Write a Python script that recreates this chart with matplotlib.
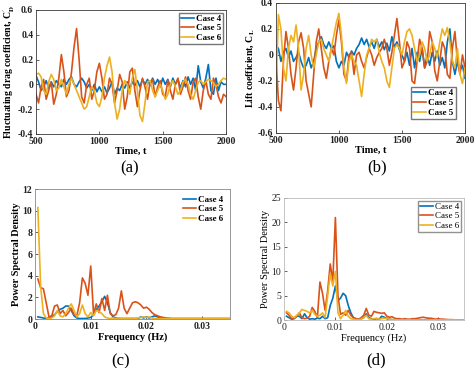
import numpy as np
import matplotlib
matplotlib.use("Agg")
import matplotlib.pyplot as plt
from matplotlib.ticker import FuncFormatter

# ---------------- data ----------------
time = list(range(500, 2001, 20))  # 76 points

cd_case4 = [0.07, 0.02, -0.05, -0.02, 0.03, -0.03, 0.02, -0.02, 0.03, 0.0,
            -0.02, 0.04, 0.0, 0.04, 0.06, 0.0, -0.02, 0.02, 0.05, 0.02,
            -0.03, 0.0, -0.05, 0.0, -0.06, -0.02, -0.06, -0.02, -0.07, -0.03,
            0.02, -0.08, -0.03, -0.05, 0.0, -0.03, 0.02, -0.03, 0.02, -0.01,
            0.03, -0.02, 0.04, 0.0, 0.04, -0.01, 0.05, 0.0, 0.04, -0.02,
            0.05, 0.0, 0.04, -0.02, 0.05, 0.0, 0.04, -0.03, 0.03, -0.02,
            0.06, 0.0, 0.05, -0.05, 0.15, 0.02, -0.03, 0.05, 0.16, -0.05,
            -0.08, 0.05, -0.05, 0.02, 0.0, 0.0]
cd_case5 = [-0.08, -0.15, -0.02, 0.04, -0.12, -0.05, 0.02, -0.16, -0.08, 0.05,
            0.24, 0.1, -0.1, -0.05, 0.1, 0.3, 0.45, 0.2, -0.1, -0.15,
            0.0, 0.05, -0.12, -0.05, 0.1, 0.17, 0.05, -0.12, -0.08, 0.05,
            0.0, -0.15, -0.05, 0.08, 0.02, -0.2, -0.1, 0.1, 0.13, -0.05,
            -0.18, -0.05, 0.05, -0.02, -0.12, 0.02, 0.04, -0.1, -0.02, 0.03,
            -0.08, -0.1, 0.03, -0.05, -0.12, 0.0, 0.05, -0.08, -0.02, 0.06,
            -0.05, -0.12, 0.02, 0.05, -0.1, -0.2, -0.05, 0.03, -0.08, -0.12,
            0.05, 0.0, -0.1, -0.15, -0.08, -0.1]
cd_case6 = [0.08, 0.09, 0.06, -0.05, -0.08, 0.02, 0.08, 0.04, -0.05, -0.03,
            0.04, -0.02, -0.08, 0.0, 0.05, 0.0, -0.05, -0.1, -0.15, -0.2,
            -0.18, -0.1, -0.02, -0.05, -0.15, -0.18, -0.1, 0.05, 0.15, 0.22,
            0.1, -0.15, -0.28, -0.2, -0.05, 0.03, 0.0, -0.08, 0.05, 0.12,
            -0.05, -0.25, -0.3, -0.15, 0.02, 0.03, -0.05, -0.1, -0.05, 0.0,
            -0.05, -0.12, -0.08, 0.0, 0.03, -0.02, -0.08, -0.05, 0.02, 0.04,
            0.0, -0.08, -0.12, -0.05, 0.02, 0.03, 0.0, 0.02, 0.04, 0.03,
            0.01, -0.02, 0.0, 0.03, 0.05, 0.04]

cl_case4 = [0.07, 0.05, -0.05, 0.02, 0.05, -0.02, 0.03, -0.05, -0.02, 0.02,
            -0.05, -0.1, -0.08, -0.02, -0.1, -0.05, 0.05, 0.1, 0.14, 0.08,
            0.05, 0.1, 0.05, 0.07, -0.05, -0.1, -0.05, -0.08, 0.02, -0.02,
            0.03, 0.0, 0.05, 0.08, 0.13, 0.08, 0.12, 0.06, 0.1, 0.05,
            0.12, 0.06, 0.1, 0.04, 0.09, 0.03, 0.14, 0.06, 0.1, 0.04,
            0.0, -0.05, 0.02, -0.08, 0.05, -0.1, 0.02, -0.05, 0.05, -0.1,
            0.0, -0.08, 0.02, -0.05, 0.03, -0.08, -0.02, -0.1, 0.1, 0.2,
            -0.05, -0.15, -0.05, -0.12, -0.08, -0.18]
cl_case5 = [0.0, -0.35, -0.43, -0.05, 0.18, 0.05, -0.15, -0.27, -0.1, 0.1,
            0.17, 0.05, -0.2, -0.3, -0.4, -0.15, 0.1, 0.2, 0.05, -0.1,
            -0.18, -0.05, 0.05, 0.0, 0.15, 0.27, 0.1, -0.15, -0.2, 0.0,
            0.02, -0.15, 0.0, 0.02, -0.05, -0.1, -0.02, 0.05, 0.0, -0.08,
            -0.02, 0.02, 0.05, 0.12, 0.05, -0.08, 0.02, 0.15, 0.28, 0.1,
            -0.1, -0.05, 0.1, 0.05, -0.2, -0.22, -0.05, 0.12, 0.05, -0.1,
            -0.05, 0.18, 0.1, -0.12, -0.2, -0.05, 0.1, 0.05, -0.15, -0.18,
            0.05, 0.18, -0.05, -0.15, 0.0, -0.1]
cl_case6 = [-0.3, 0.31, 0.2, -0.1, -0.2, 0.05, 0.15, 0.1, 0.23, 0.05,
            -0.27, -0.15, 0.05, 0.15, 0.0, -0.1, 0.0, 0.1, 0.12, 0.05,
            0.0, -0.05, 0.05, 0.15, 0.25, 0.32, 0.15, -0.1, -0.22, -0.05,
            0.0, -0.05, -0.08, -0.2, -0.32, -0.15, 0.0, 0.05, 0.12, 0.1,
            0.12, 0.02, -0.05, -0.1, -0.2, -0.25, -0.1, 0.05, 0.08, 0.05,
            0.0, 0.1, 0.18, 0.2, 0.15, 0.05, -0.05, 0.0, 0.1, 0.05,
            -0.05, 0.0, 0.1, 0.05, -0.02, 0.1, 0.2, 0.15, 0.21, 0.1,
            -0.05, -0.1, 0.05, -0.15, -0.22, -0.1]

freq = np.round(np.arange(1, 71) * 0.0005, 4)  # 0.0005 .. 0.035

psd_cd_case4 = [0.2, 0.15, 0.1, 0.05, 0.1, 0.2, 0.4, 0.7, 0.9, 1.0,
                1.2, 1.2, 0.8, 0.3, 0.1, 0.05, 0.05, 0.05, 0.1, 0.15,
                0.4, 0.9, 1.2, 1.6, 2.1, 1.5, 0.6, 0.2, 0.1, 0.05,
                0.05, 0.05, 0.05, 0.05, 0.05, 0.05, 0.05, 0.2, 0.1, 0.2,
                0.1, 0.2, 0.3, 0.2, 0.1, 0.05, 0.03, 0.03, 0.03, 0.03,
                0.03, 0.03, 0.03, 0.03, 0.03, 0.03, 0.03, 0.03, 0.03, 0.03,
                0.03, 0.03, 0.03, 0.03, 0.03, 0.03, 0.03, 0.03, 0.03, 0.03]
psd_cd_case5 = [3.7, 2.9, 2.8, 1.5, 0.2, 0.3, 1.2, 1.3, 0.5, 0.8,
                0.3, 0.6, 1.0, 0.4, 0.3, 1.5, 3.8, 3.3, 2.2, 4.9,
                0.5, 1.4, 0.6, 1.9, 0.8, 2.2, 0.5, 0.3, 0.4, 1.0,
                2.6, 1.0, 0.5, 1.0, 1.5, 1.6, 1.5, 1.3, 1.0, 1.1,
                0.9, 0.6, 0.4, 0.3, 0.2, 0.15, 0.1, 0.08, 0.05, 0.05,
                0.05, 0.05, 0.05, 0.05, 0.05, 0.05, 0.05, 0.05, 0.05, 0.05,
                0.05, 0.05, 0.05, 0.05, 0.05, 0.05, 0.05, 0.05, 0.05, 0.05]
psd_cd_case6 = [10.3, 3.0, 0.5, 0.1, 0.05, 0.1, 0.3, 0.8, 0.3, 0.2,
                0.5, 1.0, 1.4, 0.8, 0.2, 0.5, 1.3, 0.5, 0.2, 0.6,
                0.3, 0.8, 0.7, 0.5, 0.2, 0.1, 0.05, 0.1, 0.05, 0.1,
                0.05, 0.05, 0.05, 0.05, 0.05, 0.05, 0.1, 0.15, 0.2, 0.15,
                0.2, 0.1, 0.05, 0.05, 0.03, 0.03, 0.03, 0.03, 0.03, 0.03,
                0.03, 0.03, 0.03, 0.03, 0.03, 0.03, 0.03, 0.03, 0.03, 0.03,
                0.03, 0.03, 0.03, 0.03, 0.03, 0.03, 0.03, 0.03, 0.03, 0.03]

psd_cl_case4 = [0.8, 0.5, 0.2, 0.3, 0.8, 0.8, 0.3, 1.3, 0.5, 0.2,
                0.3, 0.2, 0.4, 0.3, 0.8, 0.3, 0.5, 3.0, 4.5, 7.0,
                4.0, 4.5, 5.5, 5.0, 3.0, 1.5, 0.5, 0.3, 0.2, 0.3,
                0.5, 1.3, 0.5, 0.3, 0.2, 0.3, 0.2, 0.8, 0.6, 0.3,
                0.2, 0.1, 0.05, 0.05, 0.05, 0.05, 0.05, 0.05, 0.05, 0.05,
                0.05, 0.05, 0.05, 0.05, 0.05, 0.05, 0.05, 0.05, 0.05, 0.05,
                0.05, 0.05, 0.05, 0.05, 0.05, 0.05, 0.05, 0.05, 0.05, 0.05]
psd_cl_case5 = [1.5, 1.0, 0.3, 0.5, 0.8, 1.5, 0.5, 0.3, 0.4, 0.8,
                2.6, 1.8, 0.5, 7.8, 5.5, 2.0, 6.0, 11.5, 8.0, 21.0,
                5.0, 1.2, 1.5, 1.0, 2.0, 1.0, 0.5, 0.3, 0.2, 0.5,
                1.0, 2.4, 1.0, 0.8, 1.8, 1.6, 1.5, 1.4, 1.5, 0.8,
                0.6, 0.7, 0.4, 0.3, 0.3, 0.2, 0.3, 0.2, 0.2, 0.3,
                0.3, 0.4, 0.5, 0.6, 0.5, 0.4, 0.4, 0.3, 0.2, 0.3,
                0.2, 0.2, 0.15, 0.1, 0.1, 0.08, 0.05, 0.05, 0.05, 0.05]
psd_cl_case6 = [1.8, 1.5, 0.8, 0.5, 1.0, 1.5, 2.2, 2.0, 1.8, 1.5,
                2.0, 1.2, 0.8, 1.0, 1.5, 0.5, 5.0, 9.5, 7.0, 10.0,
                1.5, 0.3, 1.0, 2.0, 0.8, 0.3, 0.2, 0.1, 0.1, 0.2,
                0.5, 1.0, 0.3, 0.2, 0.3, 0.4, 0.2, 0.3, 0.4, 0.3,
                0.2, 0.15, 0.1, 0.05, 0.05, 0.05, 0.05, 0.05, 0.05, 0.05,
                0.05, 0.05, 0.05, 0.05, 0.05, 0.05, 0.05, 0.05, 0.05, 0.05,
                0.05, 0.05, 0.05, 0.05, 0.05, 0.05, 0.05, 0.05, 0.05, 0.05]

labels_abc = ["Case 4", "Case 5", "Case 6"]
labels_b = ["Case 4", "Case 5", "Case 5"]
colors = ["#0072BD", "#D95319", "#EDB120"]

# ---------------- style ----------------
plt.rcParams["font.family"] = ["Liberation Serif", "DejaVu Serif"]
plt.rcParams["mathtext.fontset"] = "stix"

fig = plt.figure(figsize=(4.74, 3.68), dpi=100)
fmt = FuncFormatter(lambda v, p: "%g" % round(v, 6))


def style(ax, bold=True, edge="#3a3a3a"):
    w = "bold" if bold else "normal"
    ax.tick_params(direction="in", length=2.5, width=0.5, labelsize=7, pad=2, colors="#222222")
    for lab in ax.get_xticklabels() + ax.get_yticklabels():
        lab.set_fontweight(w)
    for s in ax.spines.values():
        s.set_color(edge)
        s.set_linewidth(0.6)
    ax.xaxis.set_major_formatter(fmt)
    ax.yaxis.set_major_formatter(fmt)


lw = 1.2

# (a)
axa = fig.add_axes([0.076, 0.636, 0.401, 0.337])
for y, c, l in zip([cd_case4, cd_case5, cd_case6], colors, labels_abc):
    axa.plot(time, y, color=c, lw=lw, label=l)
axa.set_xlim(500, 2000)
axa.set_ylim(-0.4, 0.6)
axa.set_xticks([500, 1000, 1500, 2000])
axa.set_yticks([-0.4, -0.2, 0, 0.2, 0.4, 0.6])
style(axa)
axa.set_xlabel("Time, t", fontsize=7.5, fontweight="bold", labelpad=1)
axa.set_ylabel(r"Fluctuating drag coefficient, C$_\mathbf{D}^{\prime}$", fontsize=7, fontweight="bold", labelpad=1)
axa.legend(loc="upper right", prop={"size": 6.5, "weight": "bold"}, handlelength=1.4,
           handletextpad=0.3, borderpad=0.2, labelspacing=0.15, frameon=True,
           fancybox=False, edgecolor="#555555", borderaxespad=0.3)

# (b)
axb = fig.add_axes([0.582, 0.639, 0.399, 0.353])
for y, c, l in zip([cl_case4, cl_case5, cl_case6], colors, labels_b):
    axb.plot(time, y, color=c, lw=lw, label=l)
axb.set_xlim(500, 2000)
axb.set_ylim(-0.6, 0.4)
axb.set_xticks([500, 1000, 1500, 2000])
axb.set_yticks([-0.6, -0.4, -0.2, 0, 0.2, 0.4])
style(axb)
axb.set_xlabel("Time, t", fontsize=7.5, fontweight="bold", labelpad=1)
axb.set_ylabel(r"Lift coefficient, C$_\mathbf{L}$", fontsize=7, fontweight="bold", labelpad=1)
axb.legend(loc="lower right", prop={"size": 6.5, "weight": "bold"}, handlelength=1.4,
           handletextpad=0.3, borderpad=0.2, labelspacing=0.15, frameon=True,
           fancybox=False, edgecolor="#555555", bbox_to_anchor=(0.95, 0.11),
           borderaxespad=0.0)

# (c)
axc = fig.add_axes([0.074, 0.133, 0.411, 0.353])
for y, c, l in zip([psd_cd_case4, psd_cd_case5, psd_cd_case6], colors, labels_abc):
    axc.plot(freq, y, color=c, lw=lw, label=l)
axc.set_xlim(0, 0.035)
axc.set_ylim(0, 12)
axc.set_xticks([0, 0.01, 0.02, 0.03])
axc.set_yticks([0, 2, 4, 6, 8, 10, 12])
style(axc, edge="#888888")
axc.set_xlabel("Frequency (Hz)", fontsize=7.5, fontweight="bold", labelpad=1)
axc.set_ylabel("Power Spectral Density", fontsize=7.5, fontweight="bold", labelpad=1)
axc.legend(loc="upper right", prop={"size": 6.5, "weight": "bold"}, handlelength=1.4,
           handletextpad=0.3, borderpad=0.2, labelspacing=0.15, frameon=False)

# (d)
axd = fig.add_axes([0.599, 0.130, 0.380, 0.332])
for y, c, l in zip([psd_cl_case4, psd_cl_case5, psd_cl_case6], colors, labels_abc):
    axd.plot(freq, y, color=c, lw=lw, label=l)
axd.set_xlim(0, 0.035)
axd.set_ylim(0, 25)
axd.set_xticks([0, 0.01, 0.02, 0.03])
axd.set_yticks([0, 5, 10, 15, 20, 25])
style(axd, bold=False, edge="#bbbbbb")
axd.set_xlabel("Frequency (Hz)", fontsize=7.5, labelpad=1)
axd.set_ylabel("Power Spectral Density", fontsize=7.5, labelpad=1)
axd.legend(loc="upper right", prop={"size": 6.5}, handlelength=1.4,
           handletextpad=0.3, borderpad=0.2, labelspacing=0.15, frameon=True,
           fancybox=False, edgecolor="#777777", borderaxespad=0.3)

# captions
fig.text(130 / 474, 1 - 168 / 368, "(a)", fontsize=12, ha="center", va="center")
fig.text(377 / 474, 1 - 167 / 368, "(b)", fontsize=12, ha="center", va="center")
fig.text(121 / 474, 1 - 361 / 368, "(c)", fontsize=12, ha="center", va="center")
fig.text(376 / 474, 1 - 360 / 368, "(d)", fontsize=12, ha="center", va="center")

fig.savefig("out.png", dpi=100)
